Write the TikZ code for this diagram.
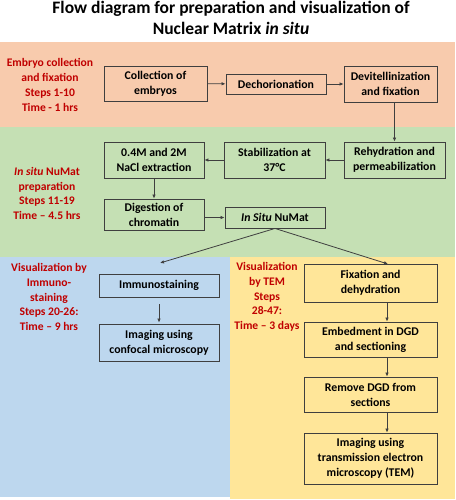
\documentclass[tikz,border=0pt]{standalone}
\usepackage{fontspec}
\setmainfont{Carlito}
\usetikzlibrary{arrows.meta,calc}
\definecolor{bgor}{HTML}{F8CBAD}
\definecolor{bggr}{HTML}{C5E0B4}
\definecolor{bgbl}{HTML}{BDD7EE}
\definecolor{bgye}{HTML}{FFE699}
\definecolor{lblred}{HTML}{C00000}
\definecolor{edge}{HTML}{3F3F3F}
\tikzset{
  stepbox/.style={draw=edge, line width=0.9pt, inner sep=0pt, align=center,
    font=\fontsize{11.8}{14.9}\selectfont\bfseries, text=black},
  phase/.style={align=center, text=lblred, inner sep=0pt,
    font=\fontsize{11.6}{14.8}\selectfont\bfseries},
  flow/.style={draw=edge, line width=0.8pt, -{Latex[length=4pt,width=3.6pt]}},
}
\begin{document}
\begin{tikzpicture}[x=1pt,y=-1pt]
\useasboundingbox (0,0) rectangle (455,500);
% backgrounds
\fill[bgor] (0,42) rectangle (455,127);
\fill[bggr] (0,127) rectangle (455,257);
\fill[bgbl] (0,257) rectangle (230,497);
\fill[bgye] (230,257) rectangle (455,499);
% title
\node[align=center, font=\fontsize{17.5}{20.5}\selectfont\bfseries] (title) at (231,18)
  {Flow diagram for preparation and visualization of\\Nuclear Matrix \textit{in situ}};
% phase labels
\node[phase] (lor) at (50,85) {Embryo collection\\and fixation\\Steps 1-10\\Time - 1 hrs};
\node[phase] (lgr) at (47,193.5) {\textit{In situ} NuMat\\preparation\\Steps 11-19\\Time – 4.5 hrs};
\node[phase] (lbl) at (49,297) {Visualization by\\Immuno-\\staining\\Steps 20-26:\\Time – 9 hrs};
\node[phase] (lye) at (267,297) {Visualization\\by TEM\\Steps\\28-47:\\Time – 3 days};
% orange boxes
\node[stepbox, fill=bgor, minimum width=103, minimum height=35] (c1) at (155.5,83.5) {Collection of\\embryos};
\node[stepbox, fill=bgor, minimum width=100, minimum height=20] (c2) at (276,84) {Dechorionation};
\node[stepbox, fill=bgor, minimum width=93, minimum height=36] (c3) at (390.5,84) {Devitellinization\\and fixation};
% green boxes
\node[stepbox, fill=bggr, minimum width=101, minimum height=36] (g3) at (394.5,160) {Rehydration and\\permeabilization};
\node[stepbox, fill=bggr, minimum width=101, minimum height=36] (g2) at (274.5,160) {Stabilization at\\37°C};
\node[stepbox, fill=bggr, minimum width=100, minimum height=36] (g1) at (154,160) {0.4M and 2M\\NaCl extraction};
\node[stepbox, fill=bggr, minimum width=100, minimum height=31] (g4) at (154,214.5) {Digestion of\\chromatin};
\node[stepbox, fill=bggr, minimum width=100, minimum height=21] (g5) at (275,217.5) {\textit{In Situ} NuMat};
% blue boxes
\node[stepbox, fill=bgbl, minimum width=120, minimum height=23] (b1) at (159,285.5) {Immunostaining};
\node[stepbox, fill=bgbl, minimum width=120, minimum height=37] (b2) at (159,342.5) {Imaging using\\confocal microscopy};
% yellow boxes
\node[stepbox, fill=bgye, minimum width=133, minimum height=38] (y1) at (370.5,283) {Fixation and\\dehydration};
\node[stepbox, fill=bgye, minimum width=133, minimum height=35] (y2) at (370.5,339.5) {Embedment in DGD\\and sectioning};
\node[stepbox, fill=bgye, minimum width=133, minimum height=35] (y3) at (370.5,394.5) {Remove DGD from\\sections};
\node[stepbox, fill=bgye, minimum width=133, minimum height=51] (y4) at (370.5,458.5) {Imaging using\\transmission electron\\microscopy (TEM)};
% free ends
\coordinate (eb) at (160,263);
\coordinate (ey) at (388,264);
% connectors
\draw[flow] (c1) -- (c2);
\draw[flow] (c2) -- (c3);
\draw[flow] (c3.south -| g3) -- (g3.north);
\draw[flow] (g3) -- (g2);
\draw[flow] (g2) -- (g1);
\draw[flow] (g1) -- (g4);
\draw[flow] (g4.east |- g5) -- (g5.west);
\draw[flow] (g5.south) -- (eb);
\draw[flow] (g5.south) -- (ey);
\draw[flow, shorten <=7pt, shorten >=1pt] (b1) -- (b2);
\draw[flow] ([xshift=16.5pt]y1.south) -- ([xshift=16.5pt]y2.north);
\draw[flow] ([xshift=16.5pt]y2.south) -- ([xshift=16.5pt]y3.north);
\draw[flow] ([xshift=16.5pt]y3.south) -- ([xshift=16.5pt]y4.north);
\end{tikzpicture}
\end{document}
